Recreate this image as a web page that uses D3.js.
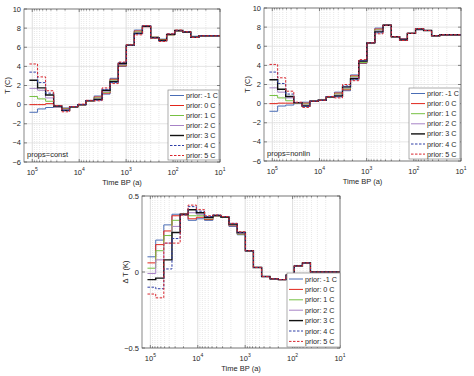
<!DOCTYPE html>
<html><head><meta charset="utf-8">
<script src="https://cdn.jsdelivr.net/npm/d3@7"></script>
<style>
body{margin:0;background:#fff;}
svg{display:block;}
text{font-family:"Liberation Sans",Arial,Helvetica,sans-serif;}
</style>
</head><body>
<svg id="c" width="474" height="376"></svg>
<script>
// ---------------- data ----------------
const priorLabels = ["prior: -1 C","prior: 0 C","prior: 1 C","prior: 2 C","prior: 3 C","prior: 4 C","prior: 5 C"];
// step (layer) boundaries, years BP, oldest first
const edgesYears = [115000,77000,52000,35000,23500,16000,10700,7200,4800,3250,2200,1470,990,670,450,300,200,137,92,62,42,28,19,13,10];
const xTickValues = [1e5,1e4,1e3,1e2,1e1];
const tTicks = [-6,-4,-2,0,2,4,6,8,10];
const dTicks = [-0.5,0,0.5];

// props=const : T (C) per layer for each prior
const constM1 = [-0.8,-0.45,-0.3,-0.25,-0.35,-0.25,-0.05,0.35,0.9,1.1,2.75,4.0,6.2,7.8,8.15,7.05,6.85,7.3,7.7,7.6,7.15,7.2,7.2,7.2];
const constP0 = [0.0,0.0,0.1,-0.22,-0.4,-0.25,-0.04,0.36,0.8,1.2,2.65,4.05,6.2,7.7,8.15,7.05,6.8,7.3,7.7,7.6,7.12,7.2,7.2,7.2];
const constP1 = [0.85,0.6,0.35,-0.2,-0.45,-0.24,-0.03,0.38,0.7,1.3,2.55,4.15,6.2,7.6,8.2,7.05,6.75,7.3,7.7,7.6,7.1,7.2,7.2,7.2];
const constP2 = [1.7,1.5,0.7,-0.18,-0.5,-0.23,-0.02,0.4,0.6,1.4,2.45,4.2,6.2,7.5,8.2,7.0,6.7,7.35,7.72,7.6,7.08,7.2,7.2,7.2];
const constP3 = [2.55,1.75,1.0,-0.15,-0.6,-0.22,0.0,0.42,0.55,1.5,2.4,4.3,6.22,7.45,8.2,7.0,6.7,7.35,7.75,7.6,7.05,7.2,7.2,7.2];
const constP4 = [3.4,2.3,1.2,-0.12,-0.65,-0.2,0.02,0.44,0.45,1.6,2.3,4.4,6.22,7.4,8.25,7.0,6.65,7.4,7.75,7.62,7.05,7.2,7.2,7.2];
const constP5 = [4.25,2.9,1.45,-0.1,-0.75,-0.2,0.05,0.45,0.4,1.75,2.2,4.45,6.25,7.3,8.25,6.95,6.6,7.4,7.8,7.62,7.02,7.2,7.2,7.2];

// props=nonlin
const nonlinM1 = [-0.8,-0.25,-0.15,0.0,0.15,0.25,0.35,0.65,1.2,1.35,3.0,4.2,6.35,7.9,8.2,7.0,6.8,7.35,7.72,7.65,7.1,7.2,7.2,7.2];
const nonlinP0 = [0.0,0.05,0.05,0.02,0.05,0.25,0.35,0.66,1.1,1.45,2.9,4.25,6.35,7.8,8.2,7.0,6.75,7.35,7.74,7.65,7.1,7.2,7.2,7.2];
const nonlinP1 = [0.85,0.6,0.3,0.05,-0.05,0.25,0.35,0.68,1.0,1.55,2.8,4.3,6.35,7.7,8.2,7.0,6.7,7.35,7.76,7.65,7.1,7.2,7.2,7.2];
const nonlinP2 = [1.65,1.2,0.6,0.08,-0.15,0.25,0.35,0.7,0.9,1.65,2.7,4.4,6.35,7.6,8.2,7.0,6.7,7.35,7.78,7.65,7.1,7.2,7.2,7.2];
const nonlinP3 = [2.5,1.5,0.75,0.1,-0.25,0.25,0.35,0.72,0.8,1.75,2.6,4.45,6.35,7.5,8.2,7.0,6.65,7.35,7.8,7.65,7.1,7.2,7.2,7.2];
const nonlinP4 = [3.3,2.1,1.0,0.12,-0.3,0.25,0.35,0.74,0.7,1.85,2.5,4.5,6.35,7.4,8.2,7.0,6.62,7.35,7.82,7.65,7.1,7.2,7.2,7.2];
const nonlinP5 = [4.1,2.7,1.3,0.15,-0.4,0.25,0.35,0.75,0.6,2.0,2.4,4.6,6.35,7.3,8.2,7.0,6.6,7.35,7.85,7.65,7.1,7.2,7.2,7.2];

// Delta T (K)
const deltaM1 = [0.10,0.21,0.31,0.38,0.385,0.34,0.35,0.34,0.37,0.36,0.30,0.245,0.14,0.03,-0.03,-0.045,-0.05,-0.02,0.04,0.06,0.0,0.0,0.0,0.0];
const deltaP0 = [0.06,0.18,0.27,0.37,0.383,0.35,0.36,0.345,0.37,0.36,0.305,0.25,0.14,0.03,-0.03,-0.045,-0.05,-0.02,0.04,0.06,0.0,0.0,0.0,0.0];
const deltaP1 = [0.025,0.14,0.24,0.34,0.38,0.37,0.37,0.35,0.37,0.36,0.31,0.25,0.14,0.03,-0.03,-0.045,-0.05,-0.02,0.04,0.06,0.0,0.0,0.0,0.0];
const deltaP2 = [-0.01,0.08,0.19,0.30,0.38,0.39,0.38,0.355,0.372,0.362,0.31,0.255,0.14,0.03,-0.03,-0.045,-0.05,-0.02,0.04,0.06,0.0,0.0,0.0,0.0];
const deltaP3 = [-0.05,-0.04,0.08,0.26,0.378,0.41,0.39,0.36,0.372,0.362,0.315,0.26,0.14,0.03,-0.03,-0.045,-0.05,-0.02,0.04,0.06,0.0,0.0,0.0,0.0];
const deltaP4 = [-0.10,-0.11,0.02,0.22,0.376,0.43,0.40,0.365,0.375,0.365,0.32,0.26,0.14,0.03,-0.03,-0.045,-0.05,-0.02,0.04,0.06,0.0,0.0,0.0,0.0];
const deltaP5 = [-0.145,-0.17,0.19,0.19,0.375,0.44,0.41,0.37,0.375,0.365,0.32,0.265,0.14,0.03,-0.03,-0.045,-0.05,-0.02,0.04,0.06,0.0,0.0,0.0,0.0];

// ---------------- styles ----------------
const seriesStyle = [
  {color:"#4a6db5", width:1.0, dash:null},
  {color:"#e1251b", width:1.0, dash:null},
  {color:"#77c043", width:1.0, dash:null},
  {color:"#a783c6", width:1.0, dash:null},
  {color:"#111111", width:1.4, dash:null},
  {color:"#2e3fa6", width:1.0, dash:"2.5,1.5"},
  {color:"#d8262e", width:1.0, dash:"2.5,1.5"}
];
const textColor = "#262626";

const svg = d3.select("#c");
const xDomain = [1.5e5, 10];

function panel(cfg, idx) {
  const x = d3.scaleLog().domain(xDomain).range([cfg.x0, cfg.x1]);
  const y = d3.scaleLinear().domain(cfg.yDomain).range([cfg.y1, cfg.y0]);
  const g = svg.append("g");
  const clipId = "clip" + idx;
  g.append("clipPath").attr("id", clipId).append("rect")
    .attr("x", cfg.x0).attr("y", cfg.y0).attr("width", cfg.x1 - cfg.x0).attr("height", cfg.y1 - cfg.y0);

  // minor + major vertical grid
  const minor = [];
  for (let e = 1; e <= 5; e++) for (let k = 2; k <= 9; k++) {
    const v = k * Math.pow(10, e);
    if (v < xDomain[0] && v > xDomain[1]) minor.push(v);
  }
  g.append("g").selectAll("line").data(minor).join("line")
    .attr("x1", d => x(d)).attr("x2", d => x(d)).attr("y1", cfg.y0).attr("y2", cfg.y1)
    .attr("stroke", "#e2e2e2").attr("stroke-width", 0.8).attr("stroke-dasharray", "1,1");
  g.append("g").selectAll("line").data(xTickValues).join("line")
    .attr("x1", d => x(d)).attr("x2", d => x(d)).attr("y1", cfg.y0).attr("y2", cfg.y1)
    .attr("stroke", "#d6d6d6").attr("stroke-width", 0.8);
  g.append("g").selectAll("line").data(cfg.yTicks).join("line")
    .attr("x1", cfg.x0).attr("x2", cfg.x1).attr("y1", d => y(d)).attr("y2", d => y(d))
    .attr("stroke", "#dedede").attr("stroke-width", 0.8);

  // series
  const line = d3.line().x(d => x(d[0])).y(d => y(d[1])).curve(d3.curveStepAfter);
  const lg = g.append("g").attr("clip-path", `url(#${clipId})`);
  cfg.series.forEach((vals, i) => {
    const pts = vals.map((v, j) => [edgesYears[j], v]);
    pts.push([edgesYears[vals.length], vals[vals.length - 1]]);
    const st = seriesStyle[i];
    lg.append("path").attr("d", line(pts)).attr("fill", "none")
      .attr("stroke", st.color).attr("stroke-width", st.width)
      .attr("stroke-dasharray", st.dash);
  });

  // box
  g.append("rect").attr("x", cfg.x0).attr("y", cfg.y0)
    .attr("width", cfg.x1 - cfg.x0).attr("height", cfg.y1 - cfg.y0)
    .attr("fill", "none").attr("stroke", "#555").attr("stroke-width", 0.7);

  // ticks (inward)
  const tk = g.append("g").attr("stroke", "#555").attr("stroke-width", 0.7);
  xTickValues.forEach(d => {
    tk.append("line").attr("x1", x(d)).attr("x2", x(d)).attr("y1", cfg.y1).attr("y2", cfg.y1 - 3);
    tk.append("line").attr("x1", x(d)).attr("x2", x(d)).attr("y1", cfg.y0).attr("y2", cfg.y0 + 3);
  });
  minor.forEach(d => {
    tk.append("line").attr("x1", x(d)).attr("x2", x(d)).attr("y1", cfg.y1).attr("y2", cfg.y1 - 1.6);
    tk.append("line").attr("x1", x(d)).attr("x2", x(d)).attr("y1", cfg.y0).attr("y2", cfg.y0 + 1.6);
  });
  cfg.yTicks.forEach(d => {
    tk.append("line").attr("x1", cfg.x0).attr("x2", cfg.x0 + 3).attr("y1", y(d)).attr("y2", y(d));
    tk.append("line").attr("x1", cfg.x1).attr("x2", cfg.x1 - 3).attr("y1", y(d)).attr("y2", y(d));
  });

  // x tick labels
  xTickValues.forEach(d => {
    const t = g.append("text").attr("x", x(d)).attr("y", cfg.y1 + 13)
      .attr("text-anchor", "middle").attr("font-size", 7.5).attr("fill", textColor);
    t.append("tspan").text("10");
    t.append("tspan").attr("dy", -4).attr("font-size", 5).text(String(Math.round(Math.log10(d))));
  });
  // y tick labels
  cfg.yTicks.forEach(d => {
    g.append("text").attr("x", cfg.x0 - 3).attr("y", y(d) + 2.6)
      .attr("text-anchor", "end").attr("font-size", 7.5).attr("fill", textColor).text(cfg.yFmt(d));
  });
  // axis labels
  g.append("text").attr("x", (cfg.x0 + cfg.x1) / 2).attr("y", cfg.y1 + 22.5)
    .attr("text-anchor", "middle").attr("font-size", 7.5).attr("fill", textColor).text("Time BP (a)");
  g.append("text").attr("transform", `translate(${cfg.x0 - 14},${(cfg.y0 + cfg.y1) / 2}) rotate(-90)`)
    .attr("text-anchor", "middle").attr("font-size", 7.5).attr("fill", textColor).text(cfg.yLabel);
  if (cfg.note) {
    g.append("text").attr("x", cfg.x0 + 3).attr("y", cfg.y1 - 5)
      .attr("font-size", 7.5).attr("fill", textColor).text(cfg.note);
  }

  // legend
  const L = cfg.legend;
  const leg = g.append("g");
  leg.append("rect").attr("x", L.x).attr("y", L.y).attr("width", L.w).attr("height", L.h)
    .attr("fill", "#fff").attr("stroke", "#8a8a8a").attr("stroke-width", 0.7);
  priorLabels.forEach((lab, i) => {
    const cy = L.y + L.first + i * L.step;
    const st = seriesStyle[i];
    leg.append("line").attr("x1", L.x + 2).attr("x2", L.x + 16).attr("y1", cy).attr("y2", cy)
      .attr("stroke", st.color).attr("stroke-width", st.width).attr("stroke-dasharray", st.dash);
    leg.append("text").attr("x", L.x + 18).attr("y", cy + 2.5).attr("font-size", 7.2)
      .attr("fill", textColor).text(lab);
  });
}

const fmtT = d => d3.format("d")(d);
const fmtD = d => (d === 0 ? "0" : d3.format(".1f")(d));

panel({x0:24, x1:220, y0:9, y1:162, yDomain:[-6,10], yTicks:tTicks, yFmt:fmtT, yLabel:"T (C)",
  note:"props=const",
  series:[constM1,constP0,constP1,constP2,constP3,constP4,constP5],
  legend:{x:168, y:90, w:51, h:70, first:5.5, step:10}}, 0);

panel({x0:264, x1:461, y0:8, y1:161, yDomain:[-6,10], yTicks:tTicks, yFmt:fmtT, yLabel:"T (C)",
  note:"props=nonlin",
  series:[nonlinM1,nonlinP0,nonlinP1,nonlinP2,nonlinP3,nonlinP4,nonlinP5],
  legend:{x:409, y:88, w:51, h:71, first:5.5, step:10.1}}, 1);

panel({x0:142, x1:340, y0:196, y1:348, yDomain:[-0.5,0.5], yTicks:dTicks, yFmt:fmtD, yLabel:"\u0394 T (K)",
  note:null,
  series:[deltaM1,deltaP0,deltaP1,deltaP2,deltaP3,deltaP4,deltaP5],
  legend:{x:287, y:273, w:53, h:74, first:6, step:10.4}}, 2);
</script>
</body></html>
